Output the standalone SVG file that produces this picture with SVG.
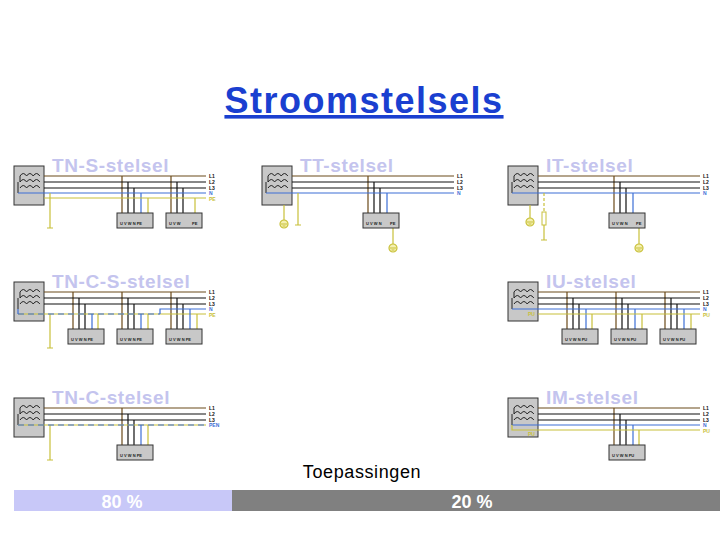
<svg xmlns="http://www.w3.org/2000/svg" xmlns:xlink="http://www.w3.org/1999/xlink" width="728" height="546" viewBox="0 0 728 546">
<style>
.w{fill:none;stroke-width:1.2}
.L1{stroke:#6b4a1a}.K{stroke:#111}.N{stroke:#3d6fd6}.PE{stroke:#c8c03a}
.pen{stroke-dasharray:6 4}
.lb{font-family:"Liberation Sans",Arial,sans-serif;font-size:5px;font-weight:bold;fill:#111}
.lbN{fill:#3d6fd6}.lbP{fill:#c8c03a}
.t{font-family:"Liberation Sans",Arial,sans-serif;font-size:19px;font-weight:bold;fill:#c4c4ee;letter-spacing:0.6px}
.cbt{font-family:"Liberation Sans",Arial,sans-serif;font-size:4px;font-weight:bold;fill:#222}
</style>
<defs>
<g id="tr">
<rect x="0" y="0" width="30" height="39" fill="#c8c8c8" stroke="#333" stroke-width="1"/>
<path d="M6 10q3.3-5 6.6 0q3.3-5 6.6 0q3.3-5 6.6 0M6 16q3.3-5 6.6 0q3.3-5 6.6 0q3.3-5 6.6 0M6 22q3.3-5 6.6 0q3.3-5 6.6 0q3.3-5 6.6 0M6 10V16M4 16V27" fill="none" stroke="#222" stroke-width="1"/>
</g>
<rect id="cb" x="0" y="0" width="36" height="15" fill="#c8c8c8" stroke="#333" stroke-width="1"/>
<g id="grd"><circle cx="0" cy="0" r="4" fill="#f4f0b0" stroke="#c8c03a" stroke-width="1.2"/><path d="M-3 0H3M-1.5 2H1.5" stroke="#c8c03a" stroke-width="1"/></g>
</defs>
<rect width="728" height="546" fill="#fff"/>

<g id="title"><text x="364" y="113" text-anchor="middle" font-family="Liberation Sans,Arial,sans-serif" font-size="36" font-weight="bold" letter-spacing="1.5" fill="#1a3fd0" text-decoration="underline">Stroomstelsels</text></g>

<!-- TN-S -->
<g id="tns" transform="translate(14,166)">
<text class="t" x="38" y="6">TN-S-stelsel</text>
<use href="#tr"/>
<path class="w L1" d="M30 10H192M108 10V57M157 10V57"/>
<path class="w K" d="M30 16H192M30 22H192M114 16V57M120 22V57M163 16V57M169 22V57"/>
<path class="w N" d="M4 27H192M127 27V57"/>
<path class="w PE" d="M30 32H192M134 32V57M181 32V57M36 27V62M33 62H39"/>
<use href="#cb" x="103" y="47"/><use href="#cb" x="152" y="47"/>
<text class="cbt" x="106" y="59">U V W N PE</text><text class="cbt" x="155" y="59">U V W</text><text class="cbt lbP" x="178" y="59">PE</text>
<text class="lb" x="195" y="12">L1</text><text class="lb" x="195" y="18">L2</text><text class="lb" x="195" y="24">L3</text><text class="lb lbN" x="195" y="29">N</text><text class="lb lbP" x="195" y="35">PE</text>
</g>

<!-- TT -->
<g id="tt" transform="translate(262,166)">
<text class="t" x="38" y="6">TT-stelsel</text>
<use href="#tr"/>
<path class="w L1" d="M30 10H192M106 10V57"/>
<path class="w K" d="M30 16H192M30 22H192M112 16V57M118 22V57"/>
<path class="w N" d="M4 27H192M125 27V57"/>
<path class="w PE" d="M22 39V54M36 27V59M33 59H39M131 62V78"/>
<use href="#grd" x="22" y="58"/><use href="#grd" x="131" y="82"/>
<use href="#cb" x="101" y="47"/>
<text class="cbt" x="104" y="59">U V W N</text><text class="cbt lbP" x="128" y="59">PE</text>
<text class="lb" x="195" y="12">L1</text><text class="lb" x="195" y="18">L2</text><text class="lb" x="195" y="24">L3</text><text class="lb lbN" x="195" y="29">N</text>
</g>

<!-- IT -->
<g id="it" transform="translate(508,166)">
<text class="t" x="38" y="6">IT-stelsel</text>
<use href="#tr"/>
<path class="w L1" d="M30 10H192M106 10V57"/>
<path class="w K" d="M30 16H192M30 22H192M112 16V57M118 22V57"/>
<path class="w N" d="M4 27H192M125 27V57"/>
<path class="w PE" d="M22 39V52M131 62V78"/>
<path class="w PE" d="M36 27V46" stroke-dasharray="3 2"/>
<rect x="34" y="46" width="4" height="13" fill="#fff" stroke="#c8c03a"/>
<path class="w PE" d="M36 59V74M33 74H39"/>
<use href="#grd" x="22" y="56"/><use href="#grd" x="131" y="82"/>
<use href="#cb" x="101" y="47"/>
<text class="cbt" x="104" y="59">U V W N</text><text class="cbt lbP" x="128" y="59">PE</text>
<text class="lb" x="195" y="12">L1</text><text class="lb" x="195" y="18">L2</text><text class="lb" x="195" y="24">L3</text><text class="lb lbN" x="195" y="29">N</text>
</g>

<!-- TN-C-S -->
<g id="tncs" transform="translate(14,282)">
<text class="t" x="38" y="6">TN-C-S-stelsel</text>
<use href="#tr"/>
<path class="w L1" d="M30 10H192M59 10V57M108 10V57M157 10V57"/>
<path class="w K" d="M30 16H192M30 22H192M65 16V57M71 22V57M114 16V57M120 22V57M163 16V57M169 22V57"/>
<path class="w PE" d="M4 32H146M146 32H192M36 32V66M33 66H39M84 32V57M134 32V57M183 32V57"/>
<path class="w N pen" d="M4 32H146"/>
<path class="w N" d="M4 27V32M146 32V27H192M78 32V57M127 32V57M176 27V57"/>
<use href="#cb" x="54" y="47"/><use href="#cb" x="103" y="47"/><use href="#cb" x="152" y="47"/>
<text class="cbt" x="57" y="59">U V W N PE</text><text class="cbt" x="106" y="59">U V W N PE</text><text class="cbt" x="155" y="59">U V W N PE</text>
<text class="lb" x="195" y="12">L1</text><text class="lb" x="195" y="18">L2</text><text class="lb" x="195" y="24">L3</text><text class="lb lbN" x="195" y="29">N</text><text class="lb lbP" x="195" y="35">PE</text>
</g>

<!-- IU -->
<g id="iu" transform="translate(508,282)">
<text class="t" x="38" y="6">IU-stelsel</text>
<use href="#tr"/>
<path class="w L1" d="M30 10H192M59 10V57M108 10V57M157 10V57"/>
<path class="w K" d="M30 16H192M30 22H192M65 16V57M71 22V57M114 16V57M120 22V57M163 16V57M169 22V57"/>
<path class="w N" d="M4 27H192M78 27V57M127 27V57M176 27V57"/>
<path class="w PE" d="M30 32H192M84 32V57M134 32V57M183 32V57"/>
<text class="lb lbP" x="20" y="34">PU</text>
<use href="#cb" x="54" y="47"/><use href="#cb" x="103" y="47"/><use href="#cb" x="152" y="47"/>
<text class="cbt" x="57" y="59">U V W N PU</text><text class="cbt" x="106" y="59">U V W N PU</text><text class="cbt" x="155" y="59">U V W N PU</text>
<text class="lb" x="195" y="12">L1</text><text class="lb" x="195" y="18">L2</text><text class="lb" x="195" y="24">L3</text><text class="lb lbN" x="195" y="29">N</text><text class="lb lbP" x="195" y="35">PU</text>
</g>

<!-- TN-C -->
<g id="tnc" transform="translate(14,398)">
<text class="t" x="38" y="6">TN-C-stelsel</text>
<use href="#tr"/>
<path class="w L1" d="M30 10H192M108 10V57"/>
<path class="w K" d="M30 16H192M30 22H192M114 16V57M120 22V57"/>
<path class="w PE" d="M4 27H192M36 27V62M33 62H39M134 27V57"/>
<path class="w N pen" d="M4 27H192"/>
<path class="w N" d="M127 27V57"/>
<use href="#cb" x="103" y="47"/>
<text class="cbt" x="106" y="59">U V W N PE</text>
<text class="lb" x="195" y="12">L1</text><text class="lb" x="195" y="18">L2</text><text class="lb" x="195" y="24">L3</text><text class="lb lbN" x="195" y="29">PEN</text>
</g>

<!-- IM -->
<g id="im" transform="translate(508,398)">
<text class="t" x="38" y="6">IM-stelsel</text>
<use href="#tr"/>
<path class="w L1" d="M30 10H192M106 10V57"/>
<path class="w K" d="M30 16H192M30 22H192M112 16V57M118 22V57"/>
<path class="w N" d="M4 27H192M125 27V57"/>
<path class="w PE" d="M4 27V32H192M131 32V57"/>
<text class="lb lbP" x="20" y="38">PU</text>
<use href="#cb" x="101" y="47"/>
<text class="cbt" x="104" y="59">U V W N PU</text>
<text class="lb" x="195" y="12">L1</text><text class="lb" x="195" y="18">L2</text><text class="lb" x="195" y="24">L3</text><text class="lb lbN" x="195" y="29">N</text><text class="lb lbP" x="195" y="35">PU</text>
</g>

<g id="bar" font-family="Liberation Sans,Arial,sans-serif">
<text x="362" y="478" text-anchor="middle" font-size="18" letter-spacing="0.6" fill="#000">Toepassingen</text>
<rect x="14" y="490" width="218" height="21" fill="#c8c8f8"/>
<rect x="232" y="490" width="488" height="21" fill="#808080"/>
<text x="122" y="508" text-anchor="middle" font-size="18" font-weight="bold" fill="#fff">80 %</text>
<text x="472" y="508" text-anchor="middle" font-size="18" font-weight="bold" fill="#fff">20 %</text>
</g>
</svg>
